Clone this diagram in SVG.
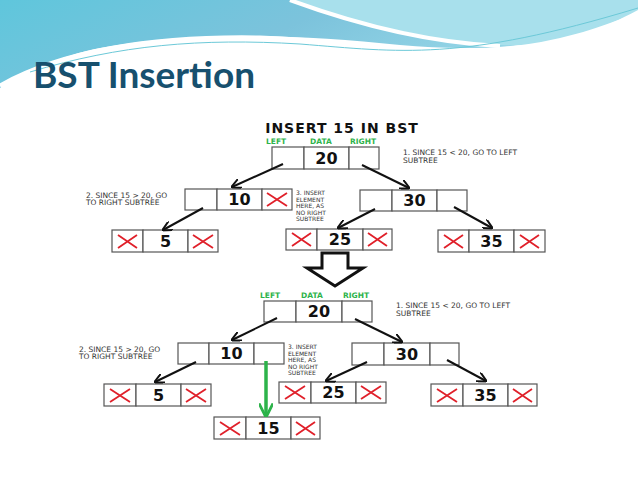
<svg xmlns="http://www.w3.org/2000/svg" width="638" height="478" viewBox="0 0 638 478">
<defs>
<linearGradient id="wave" x1="0" y1="0" x2="1" y2="0.3"><stop offset="0" stop-color="#5fc6dc"/><stop offset="0.5" stop-color="#7cc3dc"/><stop offset="1" stop-color="#9edcea"/></linearGradient>
<marker id="ah" viewBox="0 0 10 10" refX="9" refY="5" markerWidth="5" markerHeight="5" orient="auto"><path d="M0,0 L10,5 L0,10" fill="none" stroke="#111" stroke-width="2"/></marker>
<marker id="gh" viewBox="0 0 10 10" refX="9" refY="5" markerWidth="4" markerHeight="4" orient="auto"><path d="M0,0 L10,5 L0,10" fill="none" stroke="#2db34a" stroke-width="2"/></marker>
</defs>
<style>
.c{fill:#fff;stroke:#555;stroke-width:1.2}
.n{font-family:"DejaVu Sans",sans-serif;font-weight:bold;font-size:16px;text-anchor:middle;fill:#111}
.x{stroke:#e0202a;stroke-width:1.8}
.t{font-family:"DejaVu Sans",sans-serif;font-size:7.5px;fill:#333}
.s{font-family:"DejaVu Sans",sans-serif;font-size:6px;fill:#333}
.g{font-family:"DejaVu Sans",sans-serif;font-size:7.5px;fill:#2db34a;font-weight:bold}
.a{stroke:#111;stroke-width:2;fill:none;marker-end:url(#ah)}
</style>
<rect width="638" height="478" fill="#fff"/>
<path d="M0,0 H638 V8 C560,50 480,52 400,45 C300,35 200,30 100,48 C60,56 25,72 0,88 Z" fill="url(#wave)"/>
<path d="M290,0 C350,20 420,40 500,45 C560,48 600,30 638,10 V0 Z" fill="#a8e0ec"/>
<path d="M290,0 C350,22 420,42 500,46" fill="none" stroke="#fff" stroke-width="4"/>
<path d="M0,86 C60,52 150,36 260,38 C360,42 420,55 500,50 C560,45 600,30 638,15" fill="none" stroke="#fff" stroke-width="5"/>
<path d="M30,72 C120,45 200,38 300,44 C400,52 460,62 638,8" fill="none" stroke="#6cc9d8" stroke-width="1"/>
<text x="33" y="88" font-family="Lato,'Open Sans',sans-serif" font-weight="bold" font-size="37" fill="#17506e">BST Insertion</text>
<text x="342" y="133" font-family="'DejaVu Sans',sans-serif" font-weight="bold" font-size="14" text-anchor="middle" fill="#111" letter-spacing="1">INSERT 15 IN BST</text>

<g id="top-labels">
<text class="g" x="266" y="144">LEFT</text><text class="g" x="310" y="144">DATA</text><text class="g" x="350" y="144">RIGHT</text>
<text class="t" x="403" y="155">1. SINCE 15 &lt; 20, GO TO LEFT</text><text class="t" x="403" y="163">SUBTREE</text>
<text class="t" x="86" y="198">2. SINCE 15 &gt; 20, GO</text><text class="t" x="86" y="205">TO RIGHT SUBTREE</text>
<text class="s" x="296" y="195">3. INSERT</text><text class="s" x="296" y="201.5">ELEMENT</text><text class="s" x="296" y="208">HERE, AS</text><text class="s" x="296" y="214.5">NO RIGHT</text><text class="s" x="296" y="221">SUBTREE</text>
</g>
<g id="t20"><rect class="c" x="272" y="147" width="32" height="22"/><rect class="c" x="304" y="147" width="45" height="22"/><rect class="c" x="349" y="147" width="30" height="22"/><text class="n" x="326.5" y="164">20</text></g>
<g id="t10"><rect class="c" x="185" y="189" width="32" height="21"/><rect class="c" x="217" y="189" width="45" height="21"/><rect class="c" x="262" y="189" width="30" height="21"/><text class="n" x="239.5" y="205">10</text><path class="x" d="M267,193 L287,206 M267,206 L287,193"/></g>
<g id="t30"><rect class="c" x="360" y="190" width="32" height="21"/><rect class="c" x="392" y="190" width="45" height="21"/><rect class="c" x="437" y="190" width="30" height="21"/><text class="n" x="414.5" y="206">30</text></g>
<g id="t5"><rect class="c" x="112" y="230" width="31" height="22"/><rect class="c" x="143" y="230" width="45" height="22"/><rect class="c" x="188" y="230" width="30" height="22"/><text class="n" x="165.5" y="247">5</text><path class="x" d="M118,235 L137,248 M118,248 L137,235 M193,235 L213,248 M193,248 L213,235"/></g>
<g id="t25"><rect class="c" x="286" y="229" width="31" height="21"/><rect class="c" x="317" y="229" width="46" height="21"/><rect class="c" x="363" y="229" width="29" height="21"/><text class="n" x="340" y="245">25</text><path class="x" d="M292,233 L311,246 M292,246 L311,233 M368,233 L387,246 M368,246 L387,233"/></g>
<g id="t35"><rect class="c" x="438" y="230" width="31" height="22"/><rect class="c" x="469" y="230" width="45" height="22"/><rect class="c" x="514" y="230" width="31" height="22"/><text class="n" x="491.5" y="247">35</text><path class="x" d="M444,235 L463,248 M444,248 L463,235 M520,235 L539,248 M520,248 L539,235"/></g>

<path id="big-arrow" d="M322,253 H348 V268 H363 L335,286 L307,268 H322 Z" fill="#fff" stroke="#111" stroke-width="3" stroke-linejoin="miter"/>

<g id="bot-labels">
<text class="g" x="260" y="298">LEFT</text><text class="g" x="301" y="298">DATA</text><text class="g" x="343" y="298">RIGHT</text>
<text class="t" x="396" y="308">1. SINCE 15 &lt; 20, GO TO LEFT</text><text class="t" x="396" y="316">SUBTREE</text>
<text class="t" x="79" y="352">2. SINCE 15 &gt; 20, GO</text><text class="t" x="79" y="359">TO RIGHT SUBTREE</text>
<text class="s" x="288" y="349">3. INSERT</text><text class="s" x="288" y="355.5">ELEMENT</text><text class="s" x="288" y="362">HERE, AS</text><text class="s" x="288" y="368.5">NO RIGHT</text><text class="s" x="288" y="375">SUBTREE</text>
</g>
<g id="b20"><rect class="c" x="264" y="301" width="32" height="21"/><rect class="c" x="296" y="301" width="46" height="21"/><rect class="c" x="342" y="301" width="30" height="21"/><text class="n" x="319" y="317">20</text></g>
<g id="b10"><rect class="c" x="178" y="343" width="31" height="21"/><rect class="c" x="209" y="343" width="45" height="21"/><rect class="c" x="254" y="343" width="30" height="21"/><text class="n" x="231.5" y="359">10</text></g>
<g id="b30"><rect class="c" x="352" y="343" width="32" height="22"/><rect class="c" x="384" y="343" width="46" height="22"/><rect class="c" x="430" y="343" width="29" height="22"/><text class="n" x="407" y="360">30</text></g>
<g id="b5"><rect class="c" x="104" y="384" width="32" height="22"/><rect class="c" x="136" y="384" width="45" height="22"/><rect class="c" x="181" y="384" width="30" height="22"/><text class="n" x="158.5" y="401">5</text><path class="x" d="M110,389 L130,402 M110,402 L130,389 M186,389 L206,402 M186,402 L206,389"/></g>
<g id="b25"><rect class="c" x="279" y="382" width="32" height="21"/><rect class="c" x="311" y="382" width="45" height="21"/><rect class="c" x="356" y="382" width="30" height="21"/><text class="n" x="333.5" y="398">25</text><path class="x" d="M285,386 L305,399 M285,399 L305,386 M361,386 L381,399 M361,399 L381,386"/></g>
<g id="b35"><rect class="c" x="431" y="384" width="32" height="22"/><rect class="c" x="463" y="384" width="45" height="22"/><rect class="c" x="508" y="384" width="29" height="22"/><text class="n" x="485.5" y="401">35</text><path class="x" d="M437,389 L457,402 M437,402 L457,389 M513,389 L532,402 M513,402 L532,389"/></g>
<g id="b15"><rect class="c" x="214" y="417" width="32" height="22"/><rect class="c" x="246" y="417" width="45" height="22"/><rect class="c" x="291" y="417" width="29" height="22"/><text class="n" x="268.5" y="434">15</text><path class="x" d="M220,422 L240,435 M220,435 L240,422 M296,422 L315,435 M296,435 L315,422"/></g>

<g id="connectors">
<path class="a" d="M283,164 L232,187"/><path class="a" d="M362,165 L409,188"/>
<path class="a" d="M203,208 L163,230"/><path class="a" d="M375,209 L338,228"/><path class="a" d="M454,207 L492,228"/>
<path class="a" d="M277,318 L232,340"/><path class="a" d="M355,319 L402,342"/>
<path class="a" d="M196,362 L155,382"/><path class="a" d="M367,362 L326,381"/><path class="a" d="M447,360 L486,381"/>
<path d="M266,361 L266,416" stroke="#2db34a" stroke-width="3.5" fill="none" marker-end="url(#gh)"/>
</g>
</svg>
